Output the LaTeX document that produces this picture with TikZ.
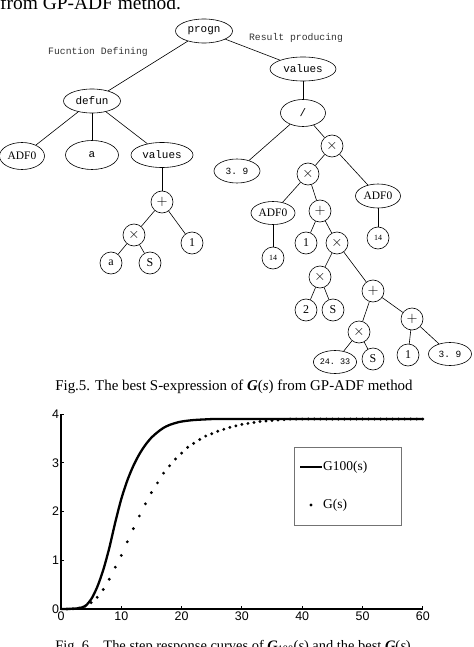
\documentclass[tikz,border=0pt]{standalone}
\usepackage{fontspec}
\setmainfont{Liberation Serif}
\newfontfamily\treemono{Liberation Mono}
\newfontfamily\axisfont{Liberation Sans}
\usetikzlibrary{shapes.geometric}

\begin{document}
\begin{tikzpicture}[x=1bp,y=-1bp,
  leaf/.style={ellipse,draw,line width=0.6bp,inner sep=0pt,
    font=\treemono\fontsize{11}{11}\selectfont},
  adf/.style={ellipse,draw,line width=0.6bp,inner sep=0pt,
    font=\fontsize{11.5}{11.5}\selectfont},
  op/.style={circle,draw,line width=0.6bp,inner sep=0pt,minimum size=22bp,
    font=\fontsize{12}{12}\selectfont},
  sym/.style={op,font=\fontsize{15}{15}\selectfont},
  edge/.style={line width=0.6bp},
  branch/.style={font=\treemono\fontsize{9.8}{10}\selectfont,text=black!80},
  tick/.style={font=\axisfont\fontsize{12.5}{12.5}\selectfont,inner sep=1bp}]
  \useasboundingbox (0,0) rectangle (474,647);
  % text of the page above and below
  \node[anchor=base west,inner sep=0pt,font=\fontsize{19.5}{20}\selectfont]
    (prev) at (0,10) {from GP-ADF method.};
  \node[anchor=north,inner sep=0pt,font=\fontsize{14.5}{15}\selectfont]
    (cap6) at (233,640) {Fig.~6\quad The step response curves of
    \textit{\textbf{G}}\textsubscript{100}(\textit{s}) and the best
    \textit{\textbf{G}}(\textit{s})};

  % S-expression tree
  \node[leaf,minimum width=57bp,minimum height=24bp] (progn) at (204,31) {progn};
  \node[branch] (fdef) at (98,52) {Fucntion Defining};
  \node[branch] (rprod) at (296,38) {Result producing};
  \node[leaf,minimum width=57bp,minimum height=24bp] (defun) at (92,101) {defun};
  \node[leaf,minimum width=66bp,minimum height=24bp] (valr) at (303,69) {values};
  \node[leaf,minimum width=45bp,minimum height=27bp] (div) at (303,113) {/};
  \node[adf,minimum width=45bp,minimum height=27bp] (adfl) at (22,156) {ADF0};
  \node[leaf,minimum width=53bp,minimum height=29bp] (argl) at (92,155) {a};
  \node[leaf,minimum width=62bp,minimum height=25bp] (vall) at (162,155) {values};
  \node[sym] (plusl) at (162,202) {$+$};
  \node[sym] (timesl) at (134,235) {$\times$};
  \node[op] (onel) at (192,243) {1};
  \node[op] (al) at (111,263) {a};
  \node[op] (sl) at (150,263) {S};
  % result producing branch
  \node[leaf,minimum width=46bp,minimum height=24bp,
    font=\treemono\fontsize{9.5}{10}\selectfont] (c39) at (237,171) {3.~9};
  \node[sym] (timesa) at (332,146) {$\times$};
  \node[sym] (timesb) at (308,174) {$\times$};
  \node[adf,minimum width=45bp,minimum height=24bp] (adfr) at (378,196) {ADF0};
  \node[op,font=\fontsize{8}{8}\selectfont] (ftr) at (378,238) {14};
  \node[adf,minimum width=44bp,minimum height=23bp] (adfm) at (273,213) {ADF0};
  \node[op,font=\fontsize{8}{8}\selectfont] (ftm) at (273,258) {14};
  \node[sym] (plusm) at (320,211) {$+$};
  \node[op] (onem) at (306,243) {1};
  \node[sym] (timesc) at (337,243) {$\times$};
  \node[sym] (timesd) at (320,277) {$\times$};
  \node[sym] (pluse) at (373,291) {$+$};
  \node[op] (two) at (306,310) {2};
  \node[op] (sd) at (333,310) {S};
  \node[sym] (timesf) at (359,332) {$\times$};
  \node[sym] (plusg) at (412,319) {$+$};
  \node[leaf,minimum width=42bp,minimum height=23bp,
    font=\treemono\fontsize{8.5}{9}\selectfont] (c2433) at (335,362) {24.~33};
  \node[op] (sf) at (373,359) {S};
  \node[op] (oneg) at (408,355) {1};
  \node[leaf,minimum width=43bp,minimum height=23bp,
    font=\treemono\fontsize{9.5}{10}\selectfont] (c39b) at (450,354) {3.~9};
  \foreach \p/\c in {progn/defun,progn/valr,defun/adfl,defun/argl,defun/vall,
    vall/plusl,plusl/timesl,plusl/onel,timesl/al,timesl/sl,
    valr/div,div/c39,div/timesa,timesa/timesb,timesa/adfr,adfr/ftr,
    timesb/adfm,timesb/plusm,adfm/ftm,plusm/onem,plusm/timesc,
    timesc/timesd,timesc/pluse,timesd/two,timesd/sd,pluse/timesf,pluse/plusg,
    timesf/c2433,timesf/sf,plusg/oneg,plusg/c39b}
    \draw[edge] (\p) -- (\c);
  \node[font=\fontsize{15}{15}\selectfont] (cap5) at (234,387)
    {Fig.5. The best S-expression of \textit{\textbf{G}}(\textit{s}) from GP-ADF method};

  % step responses
  \begin{scope}[xshift=61bp,yshift=-609bp,x=6.03bp,y=48.7bp]
    % axes
    \draw[line width=1.6bp] (0,4) -- (0,0) -- (60,0);
    \foreach \t in {0,10,...,60}
      \draw[line width=1bp] (\t,0) -- (\t,0.06) node[tick,below=4bp] (xl\t) {\t};
    \foreach \v in {0,...,4}
      \draw[line width=1bp] (0,\v) -- (0.5,\v) node[tick,left=3.5bp] (yl\v) {\v};
    % G100(s)
    \draw[line width=2.3bp] plot[smooth,tension=0.5] coordinates {(0,0) (2,0.005)
      (3,0.02) (4,0.06) (5,0.2) (6,0.45) (7,0.8) (8,1.25) (9,1.78) (10,2.26)
      (11,2.64) (12,2.94) (13,3.18) (14,3.37) (15,3.52) (16,3.63) (17,3.72)
      (18,3.78) (19,3.82) (20,3.85) (22,3.88) (25,3.9)} -- (60,3.9);
    % G(s)
    \foreach \t/\v in {1/0,2/0.005,3/0.02,4/0.06,5/0.13,6/0.24,7/0.4,8/0.61,
      9/0.86,10/1.1,11/1.38,12/1.65,13/1.91,14/2.16,15/2.39,16/2.59,17/2.79,
      18/2.94,19/3.08,20/3.2,21/3.32,22/3.4,23/3.48,24/3.55,25/3.6,26/3.65,
      27/3.69,28/3.73,29/3.76,30/3.79,31/3.81,32/3.83,33/3.85,34/3.86,
      35/3.87,36/3.88,37/3.89}
      \fill (\t,\v) circle[radius=1.6bp];
    \foreach \t in {38,...,60}
      \fill (\t,3.9) circle[radius=1.6bp];
  \end{scope}

  % legend
  \draw[black!55,line width=1bp] (294,447) rectangle (401,525);
  \coordinate (ls) at (300,467);
  \coordinate (le) at (322,467);
  \draw[line width=2.3bp] (ls) -- (le);
  \node[anchor=west,inner sep=1bp,font=\fontsize{13.5}{14}\selectfont] (lg1) at (le) {G100(s)};
  \fill (311,505) circle[radius=1.6bp];
  \node[anchor=west,inner sep=1bp,font=\fontsize{13.5}{14}\selectfont] (lg2) at (322,505) {G(s)};
\end{tikzpicture}
\end{document}
